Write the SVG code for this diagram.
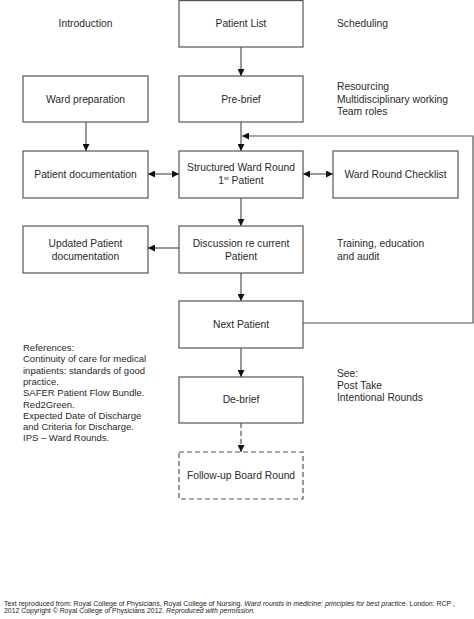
<svg xmlns="http://www.w3.org/2000/svg" width="474" height="619" viewBox="0 0 474 619">
<defs>
<marker id="ah" viewBox="0 0 10 10" refX="10" refY="5" markerWidth="7" markerHeight="7" markerUnits="userSpaceOnUse" orient="auto-start-reverse">
<path d="M0,0 L10,5 L0,10 z" fill="#111"/>
</marker>
<style>
.box{fill:#fff;stroke:#555;stroke-width:1.2}
.dash{stroke-dasharray:5,3}
.t{font-family:"Liberation Sans",Arial,sans-serif;font-size:10.3px;fill:#2a2a2a}
.c{text-anchor:middle}
.ref{font-family:"Liberation Sans",Arial,sans-serif;font-size:9.5px;fill:#2a2a2a}
.ft{font-family:"Liberation Sans",Arial,sans-serif;font-size:6.6px;fill:#222}
.ln{fill:none;stroke:#555;stroke-width:1.2}
</style>
</defs>
<rect width="474" height="619" fill="#fff"/>
<g id="connectors">
<line class="ln" x1="241" y1="47" x2="241" y2="76" marker-end="url(#ah)"/>
<line class="ln" x1="241" y1="122" x2="241" y2="151" marker-end="url(#ah)"/>
<line class="ln" x1="86" y1="122" x2="86" y2="151" marker-end="url(#ah)"/>
<line class="ln" x1="148" y1="174" x2="179" y2="174" marker-start="url(#ah)" marker-end="url(#ah)"/>
<line class="ln" x1="303" y1="174" x2="333" y2="174" marker-start="url(#ah)" marker-end="url(#ah)"/>
<line class="ln" x1="241" y1="198" x2="241" y2="226" marker-end="url(#ah)"/>
<line class="ln" x1="179" y1="248" x2="148" y2="248" marker-end="url(#ah)"/>
<line class="ln" x1="241" y1="273" x2="241" y2="301" marker-end="url(#ah)"/>
<line class="ln" x1="241" y1="348" x2="241" y2="377" marker-end="url(#ah)"/>
<line class="ln dash" x1="241" y1="423" x2="241" y2="452" marker-end="url(#ah)"/>
<polyline class="ln" points="303,323 473,323 473,136 242,136" marker-end="url(#ah)"/>
</g>
<g id="patient-list"><rect class="box" x="179" y="0.6" width="124" height="46.4"/><text class="t c" x="241" y="27">Patient List</text></g>
<g id="pre-brief"><rect class="box" x="179" y="76" width="124" height="46"/><text class="t c" x="241" y="103">Pre-brief</text></g>
<g id="ward-preparation"><rect class="box" x="23" y="76" width="125" height="46"/><text class="t c" x="85.5" y="103">Ward preparation</text></g>
<g id="patient-documentation"><rect class="box" x="23" y="151" width="125" height="47"/><text class="t c" x="85.5" y="178">Patient documentation</text></g>
<g id="structured-ward-round"><rect class="box" x="179" y="151" width="124" height="47"/><text class="t c" x="241" y="171">Structured Ward Round</text><text class="t c" x="241" y="184">1<tspan font-size="6" dy="-4">st</tspan><tspan dy="4"> Patient</tspan></text></g>
<g id="ward-round-checklist"><rect class="box" x="333" y="151" width="125" height="47"/><text class="t c" x="395.5" y="178">Ward Round Checklist</text></g>
<g id="updated-patient-documentation"><rect class="box" x="23" y="226" width="125" height="47"/><text class="t c" x="85.5" y="247">Updated Patient</text><text class="t c" x="85.5" y="259.5">documentation</text></g>
<g id="discussion"><rect class="box" x="179" y="226" width="124" height="47"/><text class="t c" x="241" y="247">Discussion re current</text><text class="t c" x="241" y="259.5">Patient</text></g>
<g id="next-patient"><rect class="box" x="179" y="301" width="124" height="47"/><text class="t c" x="241" y="327.5">Next Patient</text></g>
<g id="de-brief"><rect class="box" x="179" y="377" width="124" height="46"/><text class="t c" x="241" y="403">De-brief</text></g>
<g id="follow-up"><rect class="box dash" x="179" y="452" width="124" height="47"/><text class="t c" x="241" y="479">Follow-up Board Round</text></g>
<g id="labels">
<text class="t c" x="85.5" y="27">Introduction</text>
<text class="t" x="337" y="27">Scheduling</text>
<text class="t" x="337" y="90">Resourcing</text>
<text class="t" x="337" y="103">Multidisciplinary working</text>
<text class="t" x="337" y="115">Team roles</text>
<text class="t" x="337" y="247">Training, education</text>
<text class="t" x="337" y="259.5">and audit</text>
<text class="t" x="337" y="377">See:</text>
<text class="t" x="337" y="389">Post Take</text>
<text class="t" x="337" y="401">Intentional Rounds</text>
</g>
<g id="references">
<text class="ref" x="23" y="351">References:</text>
<text class="ref" x="23" y="362.3">Continuity of care for medical</text>
<text class="ref" x="23" y="373.6">inpatients: standards of good</text>
<text class="ref" x="23" y="384.9">practice.</text>
<text class="ref" x="23" y="396.2">SAFER Patient Flow Bundle.</text>
<text class="ref" x="23" y="407.5">Red2Green.</text>
<text class="ref" x="23" y="418.8">Expected Date of Discharge</text>
<text class="ref" x="23" y="430.1">and Criteria for Discharge.</text>
<text class="ref" x="23" y="441.4">IPS – Ward Rounds.</text>
</g>
<g id="footer">
<text class="ft" x="4" y="605.5" textLength="451" lengthAdjust="spacingAndGlyphs">Text reproduced from: Royal College of Physicians, Royal College of Nursing. <tspan font-style="italic">Ward rounds in medicine: principles for best practice</tspan>. London: RCP ,</text>
<text class="ft" x="4" y="613" textLength="251" lengthAdjust="spacingAndGlyphs">2012 Copyright © Royal College of Physicians 2012. <tspan font-style="italic">Reproduced with permission.</tspan></text>
</g>
</svg>
